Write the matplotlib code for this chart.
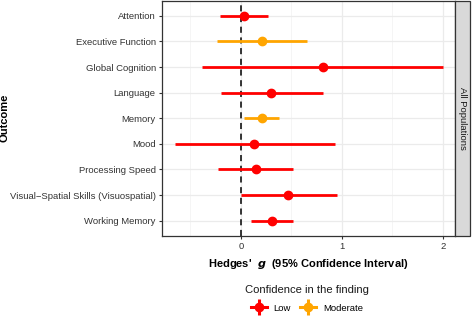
import matplotlib
matplotlib.use("Agg")
import matplotlib.pyplot as plt
from matplotlib.lines import Line2D
from matplotlib.patches import Rectangle
from matplotlib.legend_handler import HandlerTuple

plt.rcParams["font.family"] = ["Liberation Sans", "DejaVu Sans"]

# ==========================================================
# Data
# ==========================================================

outcomes = ["Attention", "Executive Function", "Global Cognition", "Language",
            "Memory", "Mood", "Processing Speed",
            "Visual\u2212Spatial Skills (Visuospatial)", "Working Memory"]
hedges_g = [0.03, 0.21, 0.81, 0.30, 0.21, 0.135, 0.15, 0.47, 0.31]
ci_low   = [-0.205, -0.24, -0.38, -0.20, 0.036, -0.65, -0.23, 0.0, 0.10]
ci_high  = [0.27, 0.66, 2.0, 0.81, 0.38, 0.93, 0.52, 0.95, 0.52]
confidence = ["Low", "Moderate", "Low", "Low", "Moderate", "Low", "Low", "Low", "Low"]

colors = {"Low": "#FF0000", "Moderate": "#FFA500"}

# ==========================================================
# Plot
# ==========================================================

fig = plt.figure(figsize=(4.74, 3.16), dpi=100)
ax = fig.add_axes([162 / 474, 1 - 236 / 316, (455 - 162) / 474, 235.5 / 316])

n = len(outcomes)
ypos = [n - i for i in range(n)]

for y, g, lo, hi, conf in zip(ypos, hedges_g, ci_low, ci_high, confidence):
    c = colors[conf]
    ax.plot([lo, hi], [y, y], color=c, lw=2.0, solid_capstyle="butt", zorder=3)
    ax.plot(g, y, "o", color=c, ms=6, zorder=4)

ax.axvline(0, color="black", ls=(0, (4, 3)), lw=1.1, zorder=2)

ax.set_xlim(-0.78, 2.12)
ax.set_ylim(0.4, n + 0.6)
ax.set_yticks(ypos)
ax.set_yticklabels(outcomes)
ax.set_xticks([0, 1, 2])
ax.set_xticks([-0.5, 0.5, 1.5], minor=True)
ax.grid(True, which="major", color="#EBEBEB", lw=0.9, zorder=0)
ax.grid(True, which="minor", axis="x", color="#F4F4F4", lw=0.6, zorder=0)
ax.set_axisbelow(True)

ax.tick_params(axis="both", which="major", labelsize=6.8, colors="#333333",
               length=2.5, width=0.8, pad=2, labelcolor="#333333")
ax.tick_params(axis="x", which="minor", length=0)
for s in ax.spines.values():
    s.set_color("#333333")
    s.set_linewidth(0.9)

ax.set_xlabel("Hedges'  $\\boldsymbol{g}$  (95% Confidence Interval)",
              fontsize=8, fontweight="bold", labelpad=4)
ax.set_ylabel("Outcome", fontsize=8, fontweight="bold")
ax.yaxis.set_label_coords((9 - 162) / 293, 0.5)

# facet strip
strip = Rectangle((455 / 474, 1 - 236 / 316), 15 / 474, 235.5 / 316,
                  transform=fig.transFigure, facecolor="#D9D9D9",
                  edgecolor="#333333", lw=0.9)
fig.add_artist(strip)
fig.text(462.5 / 474, 1 - 118 / 316, "All Populations", rotation=-90,
         ha="center", va="center", fontsize=6.8, color="#1A1A1A")

# legend
handles = []
for conf in ["Low", "Moderate"]:
    c = colors[conf]
    h1 = Line2D([], [], color=c, lw=2.2)
    h2 = Line2D([], [], color=c, marker="|", ms=11, mew=2.2, ls="none")
    h3 = Line2D([], [], color=c, marker="o", ms=6, ls="none")
    handles.append((h1, h2, h3))

leg = fig.legend(handles, ["Low", "Moderate"], title="Confidence in the finding",
                 loc="center", bbox_to_anchor=(307 / 474, 1 - 299 / 316),
                 ncol=2, frameon=False, fontsize=6.8, title_fontsize=8.1,
                 handler_map={tuple: HandlerTuple(ndivide=1)},
                 handlelength=1.7, handletextpad=0.7, columnspacing=1.0,
                 labelspacing=0.9, borderpad=0.2)
leg.get_title().set_color("#1A1A1A")

fig.savefig("out.png", dpi=100)
